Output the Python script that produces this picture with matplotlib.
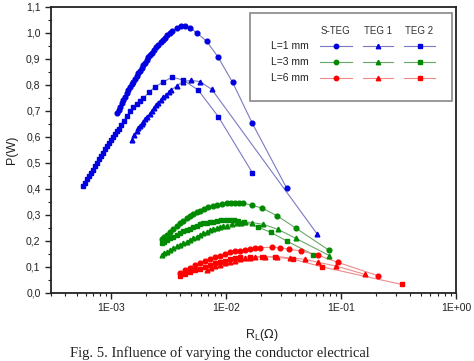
"""P vs R_L for S-TEG / TEG 1 / TEG 2 at three conductor lengths."""
import matplotlib
matplotlib.use('Agg')
import matplotlib.pyplot as plt
from matplotlib.patches import Rectangle
from matplotlib.ticker import FixedLocator, MultipleLocator, FuncFormatter, LogLocator

plt.rcParams['font.family'] = ['Liberation Sans', 'DejaVu Sans']

# L = 1 mm
r_steg_1 = [1.12e-3, 1.16e-3, 1.20e-3, 1.24e-3, 1.28e-3, 1.32e-3, 1.37e-3, 1.41e-3, 1.46e-3, 1.51e-3,
            1.56e-3, 1.61e-3, 1.67e-3, 1.73e-3, 1.79e-3, 1.85e-3, 1.91e-3, 1.97e-3, 2.04e-3, 2.11e-3,
            2.18e-3, 2.27e-3, 2.37e-3, 2.47e-3, 2.58e-3, 2.69e-3, 2.81e-3, 2.95e-3, 3.09e-3, 3.24e-3,
            3.39e-3, 3.72e-3, 4.04e-3, 4.40e-3, 4.86e-3, 5.62e-3, 6.79e-3, 8.47e-3, 1.14e-2, 1.69e-2,
            3.37e-2]
p_steg_1 = [0.691, 0.704, 0.717, 0.730, 0.742, 0.755, 0.768, 0.779, 0.791, 0.802,
            0.813, 0.824, 0.835, 0.845, 0.855, 0.866, 0.877, 0.886, 0.896, 0.906,
            0.915, 0.925, 0.935, 0.945, 0.954, 0.964, 0.973, 0.982, 0.991, 1.000,
            1.008, 1.019, 1.026, 1.028, 1.020, 0.999, 0.968, 0.909, 0.810, 0.653,
            0.403]
r_teg1_1 = [1.51e-3, 1.58e-3, 1.67e-3, 1.73e-3, 1.79e-3, 1.85e-3, 1.91e-3, 1.99e-3, 2.07e-3, 2.16e-3,
            2.26e-3, 2.36e-3, 2.46e-3, 2.58e-3, 2.70e-3, 2.85e-3, 3.01e-3, 3.17e-3, 3.33e-3, 3.72e-3,
            4.20e-3, 4.97e-3, 5.94e-3, 7.52e-3, 6.22e-2]
p_teg1_1 = [0.588, 0.606, 0.623, 0.633, 0.642, 0.651, 0.659, 0.669, 0.678, 0.690,
            0.701, 0.712, 0.722, 0.732, 0.742, 0.752, 0.762, 0.772, 0.781, 0.796,
            0.813, 0.818, 0.813, 0.783, 0.226]
r_teg2_1 = [5.68e-4, 5.91e-4, 6.15e-4, 6.40e-4, 6.65e-4, 6.93e-4, 7.21e-4, 7.51e-4, 7.82e-4, 8.14e-4,
            8.47e-4, 8.82e-4, 9.18e-4, 9.55e-4, 9.93e-4, 1.04e-3, 1.08e-3, 1.12e-3, 1.16e-3, 1.23e-3,
            1.30e-3, 1.38e-3, 1.46e-3, 1.56e-3, 1.67e-3, 1.79e-3, 1.91e-3, 2.15e-3, 2.43e-3, 2.85e-3,
            3.39e-3, 4.23e-3, 5.71e-3, 8.57e-3, 1.69e-2]
p_teg2_1 = [0.413, 0.425, 0.437, 0.450, 0.463, 0.475, 0.488, 0.501, 0.514, 0.527,
            0.540, 0.552, 0.565, 0.577, 0.588, 0.600, 0.612, 0.622, 0.632, 0.648,
            0.663, 0.682, 0.700, 0.715, 0.728, 0.740, 0.750, 0.773, 0.794, 0.812,
            0.830, 0.819, 0.781, 0.678, 0.463]

# L = 3 mm
r_steg_3 = [2.76e-3, 2.90e-3, 3.05e-3, 3.26e-3, 3.48e-3, 3.72e-3, 3.98e-3, 4.26e-3, 4.55e-3, 4.86e-3,
            5.20e-3, 5.56e-3, 5.94e-3, 6.46e-3, 7.02e-3, 7.63e-3, 8.30e-3, 9.15e-3, 1.01e-2, 1.10e-2,
            1.20e-2, 1.30e-2, 1.41e-2, 1.67e-2, 2.07e-2, 2.80e-2, 4.06e-2, 7.82e-2]
p_steg_3 = [0.208, 0.216, 0.223, 0.234, 0.245, 0.257, 0.268, 0.278, 0.287, 0.296,
            0.304, 0.311, 0.317, 0.324, 0.330, 0.334, 0.338, 0.342, 0.345, 0.346,
            0.347, 0.346, 0.345, 0.338, 0.326, 0.296, 0.249, 0.165]
r_teg1_3 = [2.76e-3, 2.91e-3, 3.07e-3, 3.27e-3, 3.48e-3, 3.72e-3, 3.98e-3, 4.26e-3, 4.55e-3, 4.86e-3,
            5.20e-3, 5.56e-3, 5.94e-3, 6.35e-3, 6.79e-3, 7.26e-3, 7.76e-3, 8.30e-3, 8.87e-3, 9.45e-3,
            1.01e-2, 1.12e-2, 1.24e-2, 1.35e-2, 1.46e-2, 1.68e-2, 2.11e-2, 2.82e-2, 4.05e-2, 7.91e-2]
p_teg1_3 = [0.146, 0.152, 0.158, 0.165, 0.172, 0.179, 0.185, 0.191, 0.197, 0.204,
            0.210, 0.217, 0.223, 0.229, 0.235, 0.241, 0.246, 0.250, 0.254, 0.257,
            0.259, 0.264, 0.268, 0.271, 0.273, 0.271, 0.264, 0.245, 0.210, 0.144]
r_teg2_3 = [2.76e-3, 2.91e-3, 3.07e-3, 3.27e-3, 3.48e-3, 3.72e-3, 3.98e-3, 4.26e-3, 4.55e-3, 4.86e-3,
            5.20e-3, 5.56e-3, 5.94e-3, 6.35e-3, 6.79e-3, 7.26e-3, 7.76e-3, 8.40e-3, 9.06e-3, 9.90e-3,
            1.08e-2, 1.18e-2, 1.28e-2, 1.44e-2, 1.91e-2, 2.46e-2, 3.37e-2, 5.71e-2]
p_teg2_3 = [0.191, 0.198, 0.204, 0.211, 0.217, 0.224, 0.231, 0.237, 0.242, 0.248,
            0.254, 0.259, 0.264, 0.268, 0.271, 0.273, 0.275, 0.277, 0.279, 0.280,
            0.281, 0.279, 0.277, 0.273, 0.253, 0.233, 0.200, 0.148]

# L = 6 mm
r_steg_6 = [3.98e-3, 4.40e-3, 4.86e-3, 5.37e-3, 5.94e-3, 6.57e-3, 7.26e-3, 8.02e-3, 8.87e-3, 9.8e-3,
            1.08e-2, 1.19e-2, 1.32e-2, 1.46e-2, 1.62e-2, 1.79e-2, 1.98e-2, 2.50e-2, 2.95e-2, 3.55e-2,
            4.47e-2, 6.25e-2, 9.35e-2, 0.208]
p_steg_6 = [0.077, 0.087, 0.096, 0.106, 0.115, 0.123, 0.131, 0.138, 0.144, 0.150,
            0.156, 0.160, 0.163, 0.166, 0.169, 0.172, 0.174, 0.176, 0.174, 0.168,
            0.162, 0.146, 0.118, 0.067]
r_teg1_6 = [6.79e-3, 7.4e-3, 8.0e-3, 8.9e-3, 9.8e-3, 1.08e-2, 1.19e-2, 1.32e-2, 1.46e-2, 1.62e-2,
            1.79e-2, 2.18e-2, 2.77e-2, 3.6e-2, 4.84e-2, 6.3e-2, 9.0e-2, 0.160]
p_teg1_6 = [0.088, 0.095, 0.102, 0.109, 0.115, 0.120, 0.125, 0.129, 0.133, 0.135,
            0.137, 0.138, 0.140, 0.135, 0.130, 0.118, 0.104, 0.072]
r_teg2_6 = [3.98e-3, 4.40e-3, 4.86e-3, 5.37e-3, 5.94e-3, 6.57e-3, 7.26e-3, 8.02e-3, 8.87e-3, 9.8e-3,
            1.08e-2, 1.19e-2, 1.32e-2, 1.62e-2, 2.04e-2, 2.67e-2, 3.85e-2, 6.77e-2, 0.336]
p_teg2_6 = [0.065, 0.073, 0.081, 0.088, 0.094, 0.101, 0.108, 0.114, 0.119, 0.124,
            0.129, 0.133, 0.137, 0.140, 0.140, 0.138, 0.130, 0.101, 0.033]

row_labels = ['L=1 mm', 'L=3 mm', 'L=6 mm']
col_labels = ['S-TEG', 'TEG 1', 'TEG 2']
x_ticks = [1e-3, 1e-2, 1e-1, 1e0]
x_tick_labels = ['1E-03', '1E-02', '1E-01', '1E+00']

mark_colors = ['#0000e0', '#008a00', '#ff0000']
line_colors = ['#7a7ac4', '#6aa86a', '#f08a8a']
markers = ['o', '^', 's']

series = [
    [(r_steg_1, p_steg_1), (r_teg1_1, p_teg1_1), (r_teg2_1, p_teg2_1)],
    [(r_steg_3, p_steg_3), (r_teg1_3, p_teg1_3), (r_teg2_3, p_teg2_3)],
    [(r_steg_6, p_steg_6), (r_teg1_6, p_teg1_6), (r_teg2_6, p_teg2_6)],
]

fig = plt.figure(figsize=(4.74, 3.61), dpi=100)
ax = fig.add_axes([51 / 474, 1 - 293 / 361, 405 / 474, 286 / 361])

for i, row in enumerate(series):
    for j, (r, p) in enumerate(row):
        ax.plot(r, p, color=line_colors[i], lw=0.8, zorder=2)
        ax.plot(r, p, ls='none', marker=markers[j], ms=3.4, color=mark_colors[i],
                mec=mark_colors[i], zorder=3)

ax.set_xscale('log')
ax.set_xlim(3.0e-4, 1.0)
ax.set_ylim(0, 1.1)

ax.xaxis.set_major_locator(FixedLocator(x_ticks))
ax.set_xticklabels(x_tick_labels)
ax.xaxis.set_minor_locator(LogLocator(base=10, subs=range(2, 10), numticks=20))
ax.xaxis.set_minor_formatter(FuncFormatter(lambda v, pos: ''))
ax.yaxis.set_major_locator(MultipleLocator(0.1))
ax.yaxis.set_minor_locator(MultipleLocator(0.05))
ax.yaxis.set_major_formatter(FuncFormatter(lambda v, pos: f'{v:.1f}'.replace('.', ',')))

ax.tick_params(which='both', direction='out', top=False, right=False, labelsize=7.5, colors='#222222')
ax.tick_params(which='major', length=4, width=1)
ax.tick_params(which='minor', length=2.5, width=0.8)
for s in ax.spines.values():
    s.set_linewidth(1.3)
    s.set_color('#222222')

ax.set_ylabel('P(W)', fontsize=9, labelpad=6, color='#222222')
ax.set_xlabel(r'R$_\mathregular{L}$($\Omega$)', fontsize=9, color='#222222')
ax.xaxis.set_label_coords(0.52, -0.12)

# legend: rows are lengths, columns are generator types
ax.add_patch(Rectangle((0.491, 0.671), 0.498, 0.307, transform=ax.transAxes,
                       fill=False, ec='#888888', lw=1.2, zorder=4))
col_x = [(0.664, 0.742), (0.770, 0.845), (0.872, 0.948)]
row_y = [0.865, 0.809, 0.753]
for j, lab in enumerate(col_labels):
    ax.text(sum(col_x[j]) / 2, 0.917, lab, transform=ax.transAxes, ha='center', va='center',
            fontsize=7, color='#333333')
for i, lab in enumerate(row_labels):
    ax.text(0.637, row_y[i], lab, transform=ax.transAxes, ha='right', va='center',
            fontsize=7.5, color='#222222')
    for j in range(3):
        x0, x1 = col_x[j]
        ax.plot([x0, x1], [row_y[i]] * 2, transform=ax.transAxes, color=line_colors[i], lw=0.8,
                zorder=5)
        ax.plot([(x0 + x1) / 2], [row_y[i]], transform=ax.transAxes, ls='none', marker=markers[j],
                ms=3.2, color=mark_colors[i], zorder=6)

fig.text(70 / 474, 0.5 / 361, "Fig. 5. Influence of varying the conductor electrical",
         fontsize=10.5, family=['Liberation Serif', 'DejaVu Serif'], va='bottom', ha='left',
         color='#222222')

fig.savefig('out.png', dpi=100)
